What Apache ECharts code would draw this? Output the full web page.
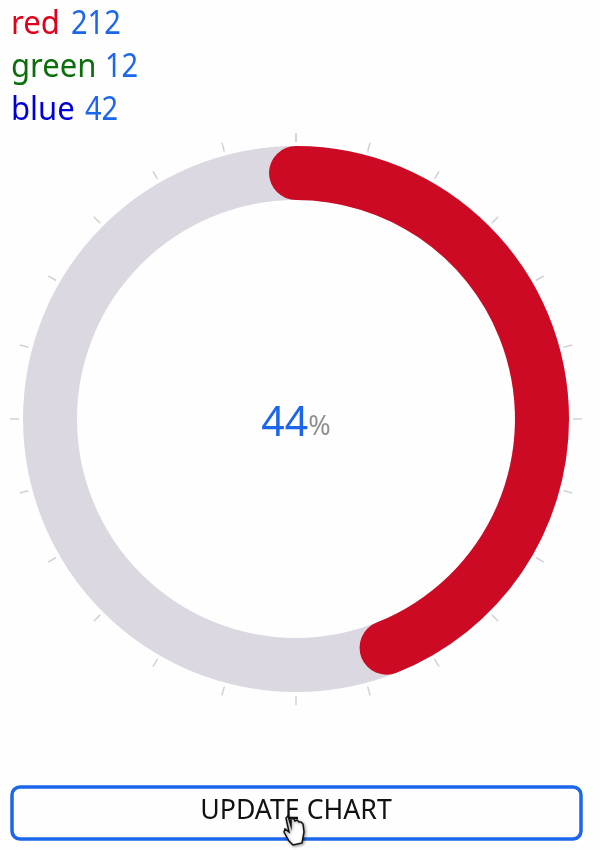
<!DOCTYPE html>
<html><head><meta charset="utf-8">
<style>html,body{margin:0;padding:0;background:#fefefe}#c{width:600px;height:850px}</style>
<script src="https://cdn.jsdelivr.net/npm/echarts@6/dist/echarts.min.js"></script>
</head><body><div id="c"></div>
<script>
const channelNames = ['red', 'green', 'blue'];
const channelValues = [212, 12, 42];
const channelColors = ['#e0001c', '#0b6e0b', '#0000d6'];
const valueLefts = [71, 105, 85];
const gaugeValue = [44];
const buttonLabel = 'UPDATE CHART';
const FONT = '"Noto Sans", sans-serif';
const ACCENT = '#1b66ea';
const chart = echarts.init(document.getElementById('c'), null, {renderer:'canvas'});
const legendEls = channelNames.flatMap((n,i)=>[
  {type:'text', x:11, y:25+i*43, scaleX:0.94,
   style:{text:n,fill:channelColors[i],font:`33px ${FONT}`,verticalAlign:'middle'}},
  {type:'text', x:valueLefts[i], y:25+i*43, scaleX:0.88,
   style:{text:String(channelValues[i]),fill:ACCENT,font:`33px ${FONT}`,verticalAlign:'middle'}}
]);
chart.setOption({
  animation:false,
  backgroundColor:'#fefefe',
  series:[{
    type:'gauge',
    center:[296,419],
    radius:273,
    startAngle:90,endAngle:-270,
    min:0,max:100,splitNumber:24,
    pointer:{show:false},
    anchor:{show:false},
    title:{show:false},
    axisLine:{roundCap:false,lineStyle:{width:54,color:[[1,'#dcd8e2']]}},
    progress:{show:true,width:54,roundCap:true,itemStyle:{color:'#cc0a24'}},
    axisTick:{show:false},
    axisLabel:{show:false},
    splitLine:{show:true,distance:-67,length:9,lineStyle:{color:'#d2d2d2',width:1.5}},
    detail:{
      show:true,offsetCenter:[0,5],valueAnimation:false,fontWeight:'normal',
      formatter:v=>`{v|${v}}{p|%}`,
      rich:{
        v:{color:ACCENT,fontSize:41,fontWeight:'normal',fontFamily:FONT},
        p:{color:'#8f8f8f',fontSize:27,fontWeight:'normal',fontFamily:FONT,padding:[7,0,0,0]}
      }
    },
    data:[{value:gaugeValue[0]}]
  }],
  graphic:[
    ...legendEls,
    {type:'rect',shape:{x:12,y:787,width:569,height:52,r:8},
     style:{fill:'#fefefe',stroke:ACCENT,lineWidth:3.5}},
    {type:'text',x:296,y:811,style:{text:buttonLabel,fill:'#111',font:`26.7px ${FONT}`,align:'center',verticalAlign:'middle'}},
    {type:'polygon',z:100,
     shape:{points:[[286,818],[288,816],[291,826],[291,818],[294,819],[295,821],[297,820],[299,822],[301,822],[303,824],[304,832],[302,843],[293,845],[289,841],[284,832],[285,829],[289,832]]},
     style:{fill:'#fff',stroke:'#111',lineWidth:1.5,shadowBlur:3,shadowColor:'rgba(0,0,0,.4)',shadowOffsetX:1,shadowOffsetY:1}}
  ]
});
</script></body></html>
